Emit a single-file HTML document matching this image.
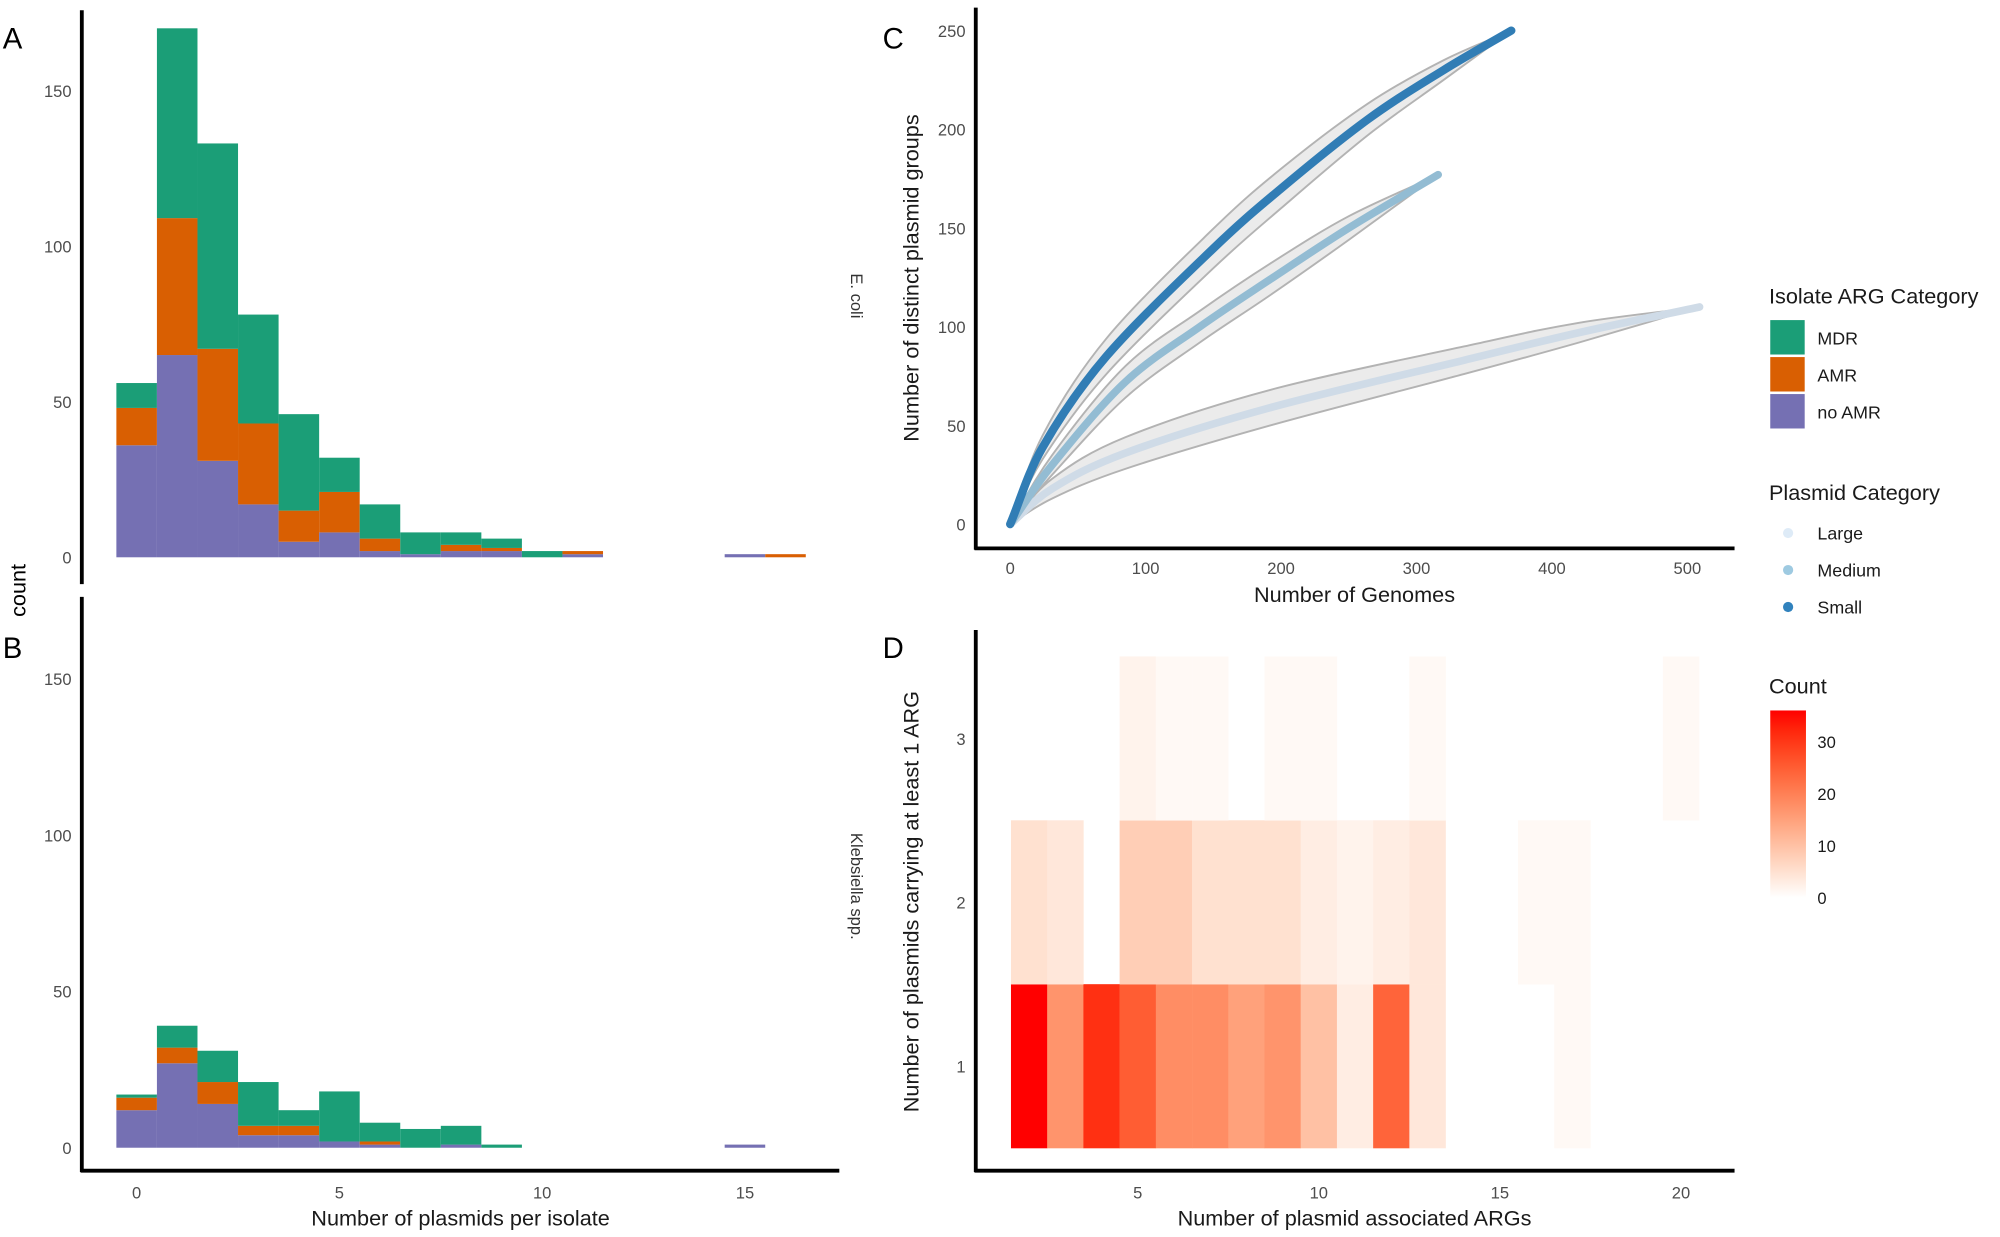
<!DOCTYPE html>
<html><head><meta charset="utf-8"><style>
html,body{margin:0;padding:0;background:#fff;}
svg{display:block;font-family:"Liberation Sans",sans-serif;}
</style></head><body>
<svg id="fig" width="2000" height="1237" viewBox="0 0 1568 970" xmlns="http://www.w3.org/2000/svg">
<g id="gA"></g>
<g id="gB"></g>
<g id="gC"></g>
<g id="gD"></g>
<g id="gL"></g>
</svg>
<script>
// ---- Panel A/B data (bins 0..16) ----
const bins = [0,1,2,3,4,5,6,7,8,9,10,11,12,13,14,15,16];
const ecoliNoAMR = [36,65,31,17,5,8,2,1,2,2,0,1,0,0,0,1,0];
const ecoliAMR   = [12,44,36,26,10,13,4,0,2,1,0,1,0,0,0,0,1];
const ecoliMDR   = [8,61,66,35,31,11,11,7,4,3,2,0,0,0,0,0,0];
const klebNoAMR  = [12,27,14,4,4,2,1,0,1,0,0,0,0,0,0,1,0];
const klebAMR    = [4,5,7,3,3,0,1,0,0,0,0,0,0,0,0,0,0];
const klebMDR    = [1,7,10,14,5,16,6,6,6,1,0,0,0,0,0,0,0];
const histYTicks = [0,50,100,150];
const histXTicks = [0,5,10,15];
// ---- Panel C data ----
const smallX = [0,24,71,149,200,264,320,370];
const smallY = [0,39,85,139,170,205,230,250];
const smallW = [0,6,9,10,10,8,5,0];
const mediumX = [0,31,85,140,192,250,316];
const mediumY = [0,30,72,100,124,150,177];
const mediumW = [0,5,8,8,8,6,0];
const largeX = [0,31,85,192,335,420,509];
const largeY = [0,18,36,59,83,97,110];
const largeW = [0,5,8,9,7,5,0];
const cXTicks = [0,100,200,300,400,500];
const cYTicks = [0,50,100,150,200,250];
// ---- Panel D data ----
const dRows = [1,1,1,1,1,1,1,1,1,1,1,1,1, 2,2,2,2,2,2,2,2,2,2,2,2,2, 3,3,3,3,3,3,3];
const dCols = [2,3,4,5,6,7,8,9,10,11,12,13,17, 2,3,5,6,7,8,9,10,11,12,13,16,17, 5,6,7,9,10,13,20];
const dCounts = [36,17,31,25,18,18,15,17,10,3,24,4,1, 5,4,8,8,5,5,5,3,2,3,4,1,1, 2,1,1,1,1,1,1];
const dXTicks = [5,10,15,20];
const dYTicks = [1,2,3];
const countTicks = [0,10,20,30];

const NS = "http://www.w3.org/2000/svg";
function mk(parent, tag, attrs, text){
  const e = document.createElementNS(NS, tag);
  for (const k in attrs) e.setAttribute(k, attrs[k]);
  if (text !== undefined) e.textContent = text;
  parent.appendChild(e);
  return e;
}
const COL = {MDR:"#1b9e77", AMR:"#d95f02", no:"#7570b3"};
const tickCol = "#4d4d4d";

const hx = v => 107 + v*31.8;
function drawHist(g, y0, ppu, noA, amr, mdr, hasXAxis, axTop, axBot){
  const hy = v => y0 - v*ppu;
  for (let i=0;i<bins.length;i++){
    const b = bins[i];
    const x0 = hx(b-0.5), w = 31.8;
    const segs = [[0,noA[i],COL.no,'no-amr'],[noA[i],noA[i]+amr[i],COL.AMR,'amr'],[noA[i]+amr[i],noA[i]+amr[i]+mdr[i],COL.MDR,'mdr']];
    for (const s of segs){
      if (s[1]-s[0] <= 0) continue;
      const r = mk(g,'rect',{x:x0,y:hy(s[1]),width:w,height:hy(s[0])-hy(s[1]),fill:s[2]});
      
      
    }
  }
  const ax = mk(g,'line',{x1:64,y1:axTop,x2:64,y2:axBot,stroke:'#000','stroke-width':3});
  
  
  for (const t of histYTicks){
    const tl = mk(g,'text',{x:56,y:hy(t)+5,'text-anchor':'end','font-size':13,fill:tickCol},String(t));
    
    
  }
  if (hasXAxis){
    const xa = mk(g,'line',{x1:63,y1:918,x2:658,y2:918,stroke:'#000','stroke-width':3});
    
    
    for (const t of histXTicks){
      const tl = mk(g,'text',{x:hx(t),y:940,'text-anchor':'middle','font-size':13,fill:tickCol},String(t));
      
      
    }
  }
}
const gA = document.getElementById('gA'), gB = document.getElementById('gB');
drawHist(gA, 437, 2.44, ecoliNoAMR, ecoliAMR, ecoliMDR, false, 8, 458);
drawHist(gB, 900, 2.453, klebNoAMR, klebAMR, klebMDR, true, 468, 919);
let t;
t = mk(gA,'text',{x:2,y:38,'font-size':23,fill:'#000'},'A');  
t = mk(gB,'text',{x:2,y:516,'font-size':23,fill:'#000'},'B');  
t = mk(gA,'text',{x:0,y:0,'font-size':17,fill:'#000','text-anchor':'middle',transform:'translate(20,463) rotate(-90)'},'count');  
t = mk(gB,'text',{x:361,y:961,'font-size':17,fill:'#1a1a1a','text-anchor':'middle'},'Number of plasmids per isolate');  
t = mk(gA,'text',{x:0,y:0,'font-size':13,fill:'#333','text-anchor':'middle',transform:'translate(667,232) rotate(90)'},'E. coli');  
t = mk(gB,'text',{x:0,y:0,'font-size':13,fill:'#333','text-anchor':'middle',transform:'translate(667,695) rotate(90)'},'Klebsiella spp.');  

// ---- Panel C ----
const gC = document.getElementById('gC');
const cx = v => 792 + v*1.062;
const cy = v => 411 - v*1.548;
function smooth(pts){
  let d = 'M'+pts[0][0]+','+pts[0][1];
  for (let i=0;i<pts.length-1;i++){
    const p0 = i>0 ? pts[i-1] : [2*pts[0][0]-pts[1][0], 2*pts[0][1]-pts[1][1]];
    const p1 = pts[i], p2 = pts[i+1];
    const n = pts.length;
    const p3 = i+2<n ? pts[i+2] : [2*pts[n-1][0]-pts[n-2][0], 2*pts[n-1][1]-pts[n-2][1]];
    const c1 = [p1[0]+(p2[0]-p0[0])/6, p1[1]+(p2[1]-p0[1])/6];
    const c2 = [p2[0]-(p3[0]-p1[0])/6, p2[1]-(p3[1]-p1[1])/6];
    d += ' C'+c1[0]+','+c1[1]+' '+c2[0]+','+c2[1]+' '+p2[0]+','+p2[1];
  }
  return d;
}
function ribbon(xs, ys, ws, name){
  const up = xs.map((x,i)=>[cx(x), cy(ys[i]+ws[i])]);
  const lo = xs.map((x,i)=>[cx(x), cy(ys[i]-ws[i])]).reverse();
  let d = smooth(up) + ' L' + smooth(lo).slice(1) + ' Z';
  const p = mk(gC,'path',{d:d,fill:'#ebebeb',stroke:'#b3b3b3','stroke-width':1.5});
  
  
}
function curve(xs, ys, col, w, name){
  const p = mk(gC,'path',{d:smooth(xs.map((x,i)=>[cx(x),cy(ys[i])])),fill:'none',stroke:col,'stroke-width':w,'stroke-linecap':'round'});
  
  
}
ribbon(largeX, largeY, largeW, 'ribbon-large');
ribbon(mediumX, mediumY, mediumW, 'ribbon-medium');
ribbon(smallX, smallY, smallW, 'ribbon-small');
curve(largeX, largeY, '#cfdbe7', 6, 'curve-large');
curve(mediumX, mediumY, '#93bcd3', 6, 'curve-medium');
curve(smallX, smallY, '#317db5', 6.5, 'curve-small');
t = mk(gC,'line',{x1:765,y1:6,x2:765,y2:431,stroke:'#000','stroke-width':3});  
t = mk(gC,'line',{x1:764,y1:430,x2:1360,y2:430,stroke:'#000','stroke-width':3});  
for (const v of cYTicks){
  t = mk(gC,'text',{x:757,y:cy(v)+5,'text-anchor':'end','font-size':13,fill:tickCol},String(v));
   
}
for (const v of cXTicks){
  t = mk(gC,'text',{x:cx(v),y:450,'text-anchor':'middle','font-size':13,fill:tickCol},String(v));
   
}
t = mk(gC,'text',{x:1062,y:472,'text-anchor':'middle','font-size':17,fill:'#1a1a1a'},'Number of Genomes');  
t = mk(gC,'text',{x:0,y:0,'text-anchor':'middle','font-size':17,fill:'#1a1a1a',transform:'translate(720,218) rotate(-90)'},'Number of distinct plasmid groups');  
t = mk(gC,'text',{x:692,y:38,'font-size':23,fill:'#000'},'C');  

// ---- Panel D ----
const gD = document.getElementById('gD');
const dx = v => 892 + (v-5)*28.4;
const dy = v => 836 - (v-1)*128.5;
const maxC = 36;
function heat(c){
  const f = Math.min(1, c/maxC);
  const g = Math.round(255*Math.pow(1-f,0.85)), b = Math.round(255*Math.pow(1-f,1.35));
  return 'rgb(255,'+g+','+b+')';
}
for (let i=0;i<dCounts.length;i++){
  const r = mk(gD,'rect',{x:dx(dCols[i]-0.5),y:dy(dRows[i]+0.5),width:28.6,height:128.7,fill:heat(dCounts[i])});
  
  
}
t = mk(gD,'line',{x1:765,y1:494,x2:765,y2:919,stroke:'#000','stroke-width':3});  
t = mk(gD,'line',{x1:764,y1:918,x2:1360,y2:918,stroke:'#000','stroke-width':3});  
for (const v of dXTicks){
  t = mk(gD,'text',{x:dx(v),y:940,'text-anchor':'middle','font-size':13,fill:tickCol},String(v));
   
}
for (const v of dYTicks){
  t = mk(gD,'text',{x:757,y:dy(v)+5,'text-anchor':'end','font-size':13,fill:tickCol},String(v));
   
}
t = mk(gD,'text',{x:1062,y:961,'text-anchor':'middle','font-size':17,fill:'#1a1a1a'},'Number of plasmid associated ARGs');  
t = mk(gD,'text',{x:0,y:0,'text-anchor':'middle','font-size':17,fill:'#1a1a1a',transform:'translate(720,707) rotate(-90)'},'Number of plasmids carrying at least 1 ARG');  
t = mk(gD,'text',{x:692,y:516,'font-size':23,fill:'#000'},'D');  

// ---- Legends ----
const gL = document.getElementById('gL');
t = mk(gL,'text',{x:1387,y:238,'font-size':17,fill:'#1a1a1a'},'Isolate ARG Category');  
const legCats = ['MDR','AMR','no AMR'];
const legCols = [COL.MDR, COL.AMR, COL.no];
for (let i=0;i<3;i++){
  const y = 251 + i*29;
  t = mk(gL,'rect',{x:1388,y:y,width:27,height:27,fill:legCols[i]});  
  t = mk(gL,'text',{x:1425,y:y+19,'font-size':14,fill:'#1a1a1a'},legCats[i]);  
}
t = mk(gL,'text',{x:1387,y:392,'font-size':17,fill:'#1a1a1a'},'Plasmid Category');  
const pCats = ['Large','Medium','Small'];
const pCols = ['#deebf7','#9ecae1','#3182bd'];
for (let i=0;i<3;i++){
  const y = 418 + i*29;
  t = mk(gL,'circle',{cx:1402,cy:y,r:4,fill:pCols[i]});  
  t = mk(gL,'text',{x:1425,y:y+5,'font-size':14,fill:'#1a1a1a'},pCats[i]);  
}
t = mk(gL,'text',{x:1387,y:544,'font-size':17,fill:'#1a1a1a'},'Count');  
const defs = mk(gL,'defs',{});
const lg = mk(defs,'linearGradient',{id:'cg',x1:0,y1:1,x2:0,y2:0});
for (let k=0;k<=10;k++){
  mk(lg,'stop',{offset:String(k/10),'stop-color':heat(maxC*k/10)});
}
const cbY = v => 704 - v*4.08;
t = mk(gL,'rect',{x:1388,y:cbY(maxC),width:28,height:cbY(0)-cbY(maxC),fill:'url(#cg)'});  
for (const v of countTicks){
  t = mk(gL,'text',{x:1425,y:cbY(v)+5,'font-size':13,fill:'#1a1a1a'},String(v));
   
}
</script>
</body></html>
